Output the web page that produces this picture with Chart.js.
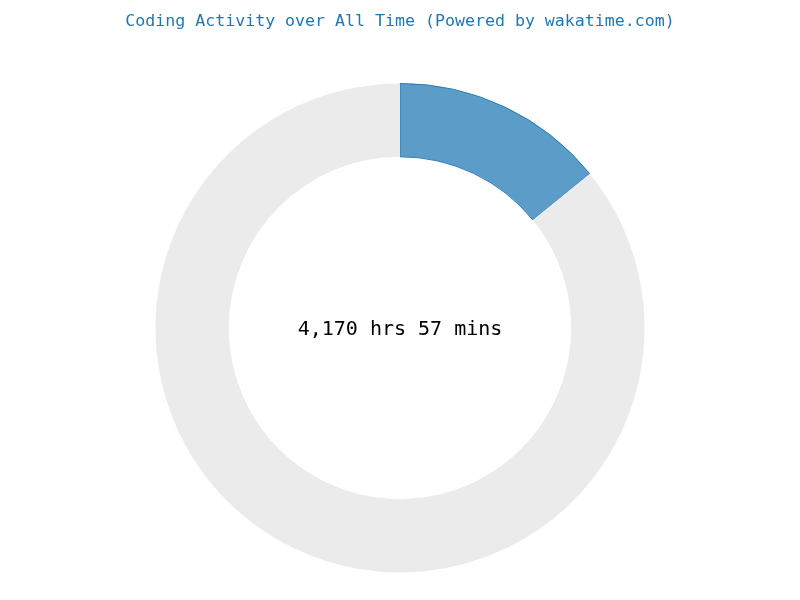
<!DOCTYPE html>
<html>
<head>
<meta charset="utf-8">
<script src="https://cdn.jsdelivr.net/npm/chart.js@4"></script>
<style>
  html, body { margin: 0; padding: 0; background: #fff; }
  #wrap { width: 800px; height: 600px; }
</style>
</head>
<body>
<div id="wrap"><canvas id="wakaChart"></canvas></div>
<script>
const labels = ["Coded", "Remaining"];
const shares = [14.13, 85.87];
const titleText = "Coding Activity over All Time (Powered by wakatime.com)";
const centerText = "4,170 hrs 57 mins";

const centerLabel = {
    id: 'centerLabel',
    afterDraw(chart) {
        const { ctx, chartArea } = chart;
        ctx.save();
        ctx.font = '20px "DejaVu Sans Mono"';
        ctx.fillStyle = '#000';
        ctx.textAlign = 'center';
        ctx.textBaseline = 'middle';
        ctx.fillText(centerText, (chartArea.left + chartArea.right) / 2, (chartArea.top + chartArea.bottom) / 2 + 1.5);
        ctx.restore();
    }
};

const ctx = document.getElementById('wakaChart').getContext('2d');
const wakaChart = new Chart(ctx, {
    type: 'doughnut',
    data: {
        labels: labels,
        datasets: [{
            data: shares,
            backgroundColor: ['rgba(31, 119, 180, 0.73)', '#ebebeb'],
            borderColor: ['rgba(31, 119, 180, 0.9)', '#ebebeb'],
            borderWidth: [1, 0],
        }]
    },
    options: {
        responsive: true,
        maintainAspectRatio: false,
        animation: false,
        cutout: '70%',
        events: [],
        layout: {
            padding: { top: 0, bottom: 27 }
        },
        plugins: {
            legend: { display: false },
            tooltip: { enabled: false },
            title: {
                display: true,
                text: titleText,
                color: '#1f77b4',
                font: { family: '"DejaVu Sans Mono"', size: 16.6, weight: 'normal' },
                padding: { top: 12, bottom: 51 }
            }
        }
    },
    plugins: [centerLabel]
});
</script>
</body>
</html>
